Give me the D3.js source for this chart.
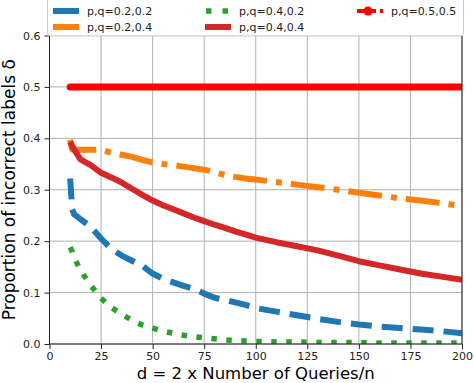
<!DOCTYPE html>
<html>
<head>
<meta charset="utf-8">
<script src="https://d3js.org/d3.v7.min.js"></script>
<style>
  body { margin: 0; background: #fff; }
  svg { font-family: "DejaVu Sans", sans-serif; }
</style>
</head>
<body>
<svg id="chart" width="474" height="383"></svg>
<script>
// sample points (d) shared by all curves
var dValues = [10, 11, 12, 15, 20, 25, 30, 35, 40, 45, 50, 55, 60, 65, 70, 75, 80, 85, 90, 95, 100,
               110, 120, 130, 140, 150, 160, 170, 180, 190, 200];

var pq22 = [0.322, 0.262, 0.252, 0.243, 0.228, 0.205, 0.185, 0.172, 0.162, 0.152, 0.137, 0.127, 0.120, 0.113,
            0.107, 0.098, 0.090, 0.086, 0.081, 0.076, 0.070, 0.063, 0.056, 0.049, 0.043, 0.038, 0.034, 0.031,
            0.028, 0.025, 0.021];
var pq24 = [0.397, 0.378, 0.378, 0.378, 0.378, 0.378, 0.372, 0.368, 0.364, 0.358, 0.353, 0.350, 0.348, 0.345,
            0.342, 0.339, 0.334, 0.329, 0.325, 0.322, 0.320, 0.315, 0.310, 0.305, 0.300, 0.294, 0.289, 0.283,
            0.279, 0.274, 0.268];
var pq42 = [0.188, 0.180, 0.168, 0.143, 0.114, 0.089, 0.071, 0.058, 0.046, 0.037, 0.031, 0.025, 0.021, 0.017,
            0.014, 0.012, 0.010, 0.008, 0.007, 0.006, 0.005, 0.004, 0.004, 0.003, 0.003, 0.003, 0.002, 0.002,
            0.002, 0.002, 0.002];
var pq44 = [0.393, 0.385, 0.378, 0.359, 0.348, 0.333, 0.324, 0.314, 0.302, 0.290, 0.279, 0.270, 0.262, 0.254,
            0.246, 0.239, 0.232, 0.226, 0.219, 0.213, 0.207, 0.198, 0.190, 0.182, 0.172, 0.161, 0.153, 0.145,
            0.137, 0.131, 0.125];
var pq55 = [0.5, 0.5, 0.5, 0.5, 0.5, 0.5, 0.5, 0.5, 0.5, 0.5, 0.5, 0.5, 0.5, 0.5, 0.5, 0.5, 0.5, 0.5, 0.5,
            0.5, 0.5, 0.5, 0.5, 0.5, 0.5, 0.5, 0.5, 0.5, 0.5, 0.5, 0.5];

var xTicks = [0, 25, 50, 75, 100, 125, 150, 175, 200];
var yTicks = [0.0, 0.1, 0.2, 0.3, 0.4, 0.5, 0.6];

var series = [
  {label: "p,q=0.2,0.2", values: pq22, color: "#1f77b4", width: 6, dash: "21,10"},
  {label: "p,q=0.2,0.4", values: pq24, color: "#ff7f0e", width: 6, dash: "34,9,6,9"},
  {label: "p,q=0.4,0.2", values: pq42, color: "#2ca02c", width: 5.5, dash: "5.5,9.5"},
  {label: "p,q=0.4,0.4", values: pq44, color: "#d62728", width: 6, dash: null},
  {label: "p,q=0.5,0.5", values: pq55, color: "#ff0000", width: 7, dash: null, round: true}
];

var m = {left: 49.5, right: 462, top: 35.5, bottom: 344};

var x = d3.scaleLinear().domain([0, 200]).range([m.left, m.right]);
var y = d3.scaleLinear().domain([0, 0.6]).range([m.bottom, m.top]);

var svg = d3.select("#chart");

svg.append("defs").append("clipPath").attr("id", "plot")
  .append("rect").attr("x", m.left).attr("y", m.top)
  .attr("width", m.right - m.left).attr("height", m.bottom - m.top);

// grid
var grid = svg.append("g");
grid.selectAll(".gx").data(xTicks).enter().append("line")
  .attr("x1", function(d) { return x(d); }).attr("x2", function(d) { return x(d); })
  .attr("y1", m.top).attr("y2", m.bottom)
  .attr("stroke", "#b0b0b0").attr("stroke-width", 1);
grid.selectAll(".gy").data(yTicks).enter().append("line")
  .attr("x1", m.left).attr("x2", m.right)
  .attr("y1", function(d) { return y(d); }).attr("y2", function(d) { return y(d); })
  .attr("stroke", "#b0b0b0").attr("stroke-width", 1);

// curves
var line = d3.line()
  .x(function(d, i) { return x(dValues[i]); })
  .y(function(d) { return y(d); });

var plot = svg.append("g").attr("clip-path", "url(#plot)");
series.forEach(function(s) {
  plot.append("path")
    .attr("d", line(s.values))
    .attr("fill", "none")
    .attr("stroke", s.color)
    .attr("stroke-width", s.width)
    .attr("stroke-linecap", s.round ? "round" : "butt")
    .attr("stroke-linejoin", "round")
    .attr("stroke-dasharray", s.dash);
});

// axes
var xAxis = d3.axisBottom(x).tickValues(xTicks).tickSize(5).tickPadding(3)
  .tickFormat(d3.format("d"));
var yAxis = d3.axisLeft(y).tickValues(yTicks).tickSize(5).tickPadding(4)
  .tickFormat(d3.format(".1f"));

var gx = svg.append("g").attr("transform", "translate(0," + m.bottom + ")").call(xAxis);
var gy = svg.append("g").attr("transform", "translate(" + m.left + ",0)").call(yAxis);
[gx, gy].forEach(function(g) {
  g.select(".domain").remove();
  g.selectAll("text").attr("font-size", 11).attr("fill", "#222").attr("font-family", "DejaVu Sans");
  g.selectAll("line").attr("stroke", "#222");
});

svg.append("rect")
  .attr("x", m.left).attr("y", m.top)
  .attr("width", m.right - m.left).attr("height", m.bottom - m.top)
  .attr("fill", "none").attr("stroke", "#222").attr("stroke-width", 1);

// axis labels
svg.append("text")
  .attr("x", (m.left + m.right) / 2).attr("y", 379)
  .attr("text-anchor", "middle").attr("font-size", 16.5)
  .text("d = 2 x Number of Queries/n");

svg.append("text")
  .attr("transform", "translate(15," + ((m.top + m.bottom) / 2) + ") rotate(-90)")
  .attr("text-anchor", "middle").attr("font-size", 17)
  .text("Proportion of incorrect labels δ");

// legend
var lg = svg.append("g");
lg.append("rect")
  .attr("x", 47.5).attr("y", -4).attr("width", 416).attr("height", 40)
  .attr("rx", 3).attr("fill", "#fff").attr("fill-opacity", 0.9)
  .attr("stroke", "#cccccc").attr("stroke-width", 1);

var colX = [87, 239, 391];
var rowY = [11, 27];
var slots = [[0, 0], [0, 1], [1, 0], [1, 1], [2, 0]];

series.forEach(function(s, i) {
  var cx = colX[slots[i][0]], cy = rowY[slots[i][1]];
  var x0 = cx - 34, x1 = cx - 8;
  var h = lg.append("line")
    .attr("x1", x0).attr("x2", x1).attr("y1", cy).attr("y2", cy)
    .attr("stroke", s.color).attr("stroke-width", s.width);
  if (i === 2) h.attr("stroke-dasharray", "5.5,11").attr("stroke-dashoffset", -1);
  if (i === 4) {
    h.attr("stroke-width", 4).attr("stroke-dasharray", "19,4,3,10");
    lg.append("circle").attr("cx", (x0 + x1) / 2 - 2).attr("cy", cy).attr("r", 4.5)
      .attr("fill", s.color);
  }
  lg.append("text")
    .attr("x", cx).attr("y", cy + 4)
    .attr("font-size", 11).attr("fill", "#222")
    .text(s.label);
});
</script>
</body>
</html>
